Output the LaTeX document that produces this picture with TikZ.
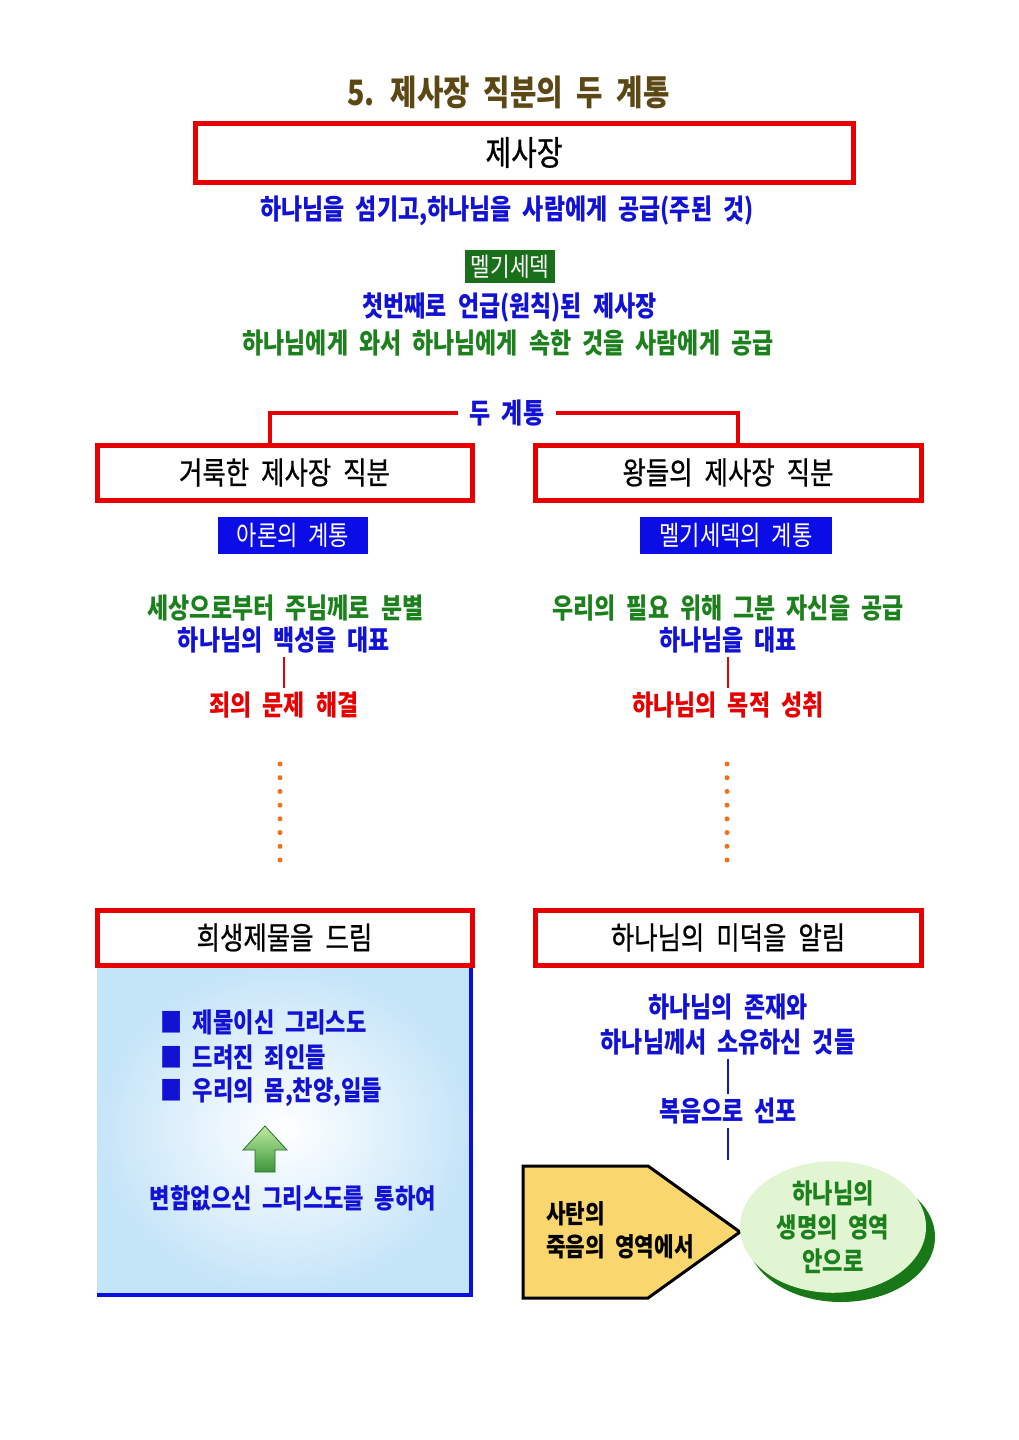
\documentclass[tikz,border=0pt]{standalone}
\usepackage{fontspec}
\setmainfont{Noto Sans CJK KR}[FakeStretch=0.82, WordSpace=2.1]
\newfontfamily\boxfont{Noto Sans CJK KR}[FakeStretch=0.82, WordSpace=2.1, FakeBold=0.7]
\usetikzlibrary{shapes.geometric}
\definecolor{myred}{RGB}{232,0,0}
\definecolor{myblue}{RGB}{18,18,212}
\definecolor{fillblue}{RGB}{12,12,230}
\definecolor{mygreen}{RGB}{28,128,28}
\definecolor{boxgreen}{RGB}{26,112,26}
\definecolor{titlebrown}{RGB}{92,72,20}
\definecolor{dotorange}{RGB}{242,112,24}
\definecolor{panelblue}{RGB}{196,228,248}
\definecolor{pentafill}{RGB}{250,214,110}
\definecolor{ellfill}{RGB}{226,245,210}
\definecolor{ellshadow}{RGB}{24,120,24}
\newcommand\fsz[2]{\fontsize{#1}{#2}\selectfont}
\tikzset{
  redbox/.style={draw=myred, line width=5pt, fill=white, inner sep=0pt, font=\boxfont\fsz{31}{34}},
  bluetxt/.style={inner sep=0pt, text=myblue, font=\bfseries\fsz{28}{32}},
  greentxt/.style={inner sep=0pt, text=mygreen, font=\bfseries\fsz{28}{32}},
  redtxt/.style={inner sep=0pt, text=myred, font=\bfseries\fsz{28}{32}},
  tagbox/.style={fill=fillblue, text=white, inner sep=0pt, minimum height=37pt, font=\fsz{27}{32}},
  redline/.style={draw=myred, line width=4pt},
  thinline/.style={line width=2.5pt, shorten <=4pt, shorten >=4pt},
  dotline/.style={draw=dotorange, line width=5pt, line cap=round, dash pattern=on 0pt off 13.714pt},
}
\begin{document}
\begin{tikzpicture}[x=1pt, y=-1pt]
\useasboundingbox (0,0) rectangle (1018,1440);

% title
\node[inner sep=0pt, text=titlebrown, font=\bfseries\fsz{35}{40}] (title) at (508.5,92) {5. 제사장 직분의 두 계통};

% top box
\node[redbox, minimum width=658pt, minimum height=59pt, font=\boxfont\fsz{34}{38}] (priest) at (524,152.5) {제사장};
\node[bluetxt] (serve) at (507,211) {하나님을 섬기고,하나님을 사람에게 공급(주된 것)};
\node[fill=boxgreen, text=white, inner sep=0pt, minimum width=90pt, minimum height=33pt, font=\fsz{26}{30}] (melch) at (510,266.5) {멜기세덱};
\node[bluetxt] (first) at (509.5,308) {첫번째로 언급(원칙)된 제사장};
\node[greentxt] (come) at (508,343) {하나님에게 와서 하나님에게 속한 것을 사람에게 공급};

% two lines
\node[bluetxt] (two) at (507,413) {두 계통};
\node[redbox, minimum width=375pt, minimum height=55pt] (holy) at (284.5,472.5) {거룩한 제사장 직분};
\node[redbox, minimum width=386pt, minimum height=55pt] (royal) at (728,472.5) {왕들의 제사장 직분};
\draw[redline] ([xshift=-12pt]two.west) -| ([xshift=-14.5pt]holy.north);
\draw[redline] ([xshift=12pt]two.east) -| ([xshift=10pt]royal.north);

\node[tagbox, minimum width=150pt] (aaron) at (293,535.5) {아론의 계통};
\node[tagbox, minimum width=192pt] (mline) at (736,535.5) {멜기세덱의 계통};

% left column
\node[greentxt] (l1) at (285.5,608) {세상으로부터 주님께로 분별};
\node[bluetxt] (l2) at (284,640) {하나님의 백성을 대표};
\node[redtxt] (l3) at (284,705) {죄의 문제 해결};
\draw[thinline, draw=myred] (l2.south) -- (l3.north);

% right column
\node[greentxt] (r1) at (728,608) {우리의 필요 위해 그분 자신을 공급};
\node[bluetxt] (r2) at (728,640) {하나님을 대표};
\node[redtxt] (r3) at (728,705) {하나님의 목적 성취};
\draw[thinline, draw=myred] (r2.south) -- (r3.north);

% dotted lines
\coordinate (ld1) at (280,764);
\coordinate (ld2) at (280,861);
\coordinate (rd1) at (727,764);
\coordinate (rd2) at (727,861);
\draw[dotline] (ld1) -- (ld2);
\draw[dotline] (rd1) -- (rd2);

% bottom left panel
\shade[inner color=white, outer color=panelblue] (97,963) rectangle (471,1295);
\draw[draw=fillblue, line width=4pt] (97,1295) -- (471,1295) -- (471,963);
\node[redbox, minimum width=375pt, minimum height=55pt] (sac) at (284.5,937.5) {희생제물을 드림};

\node[bluetxt, anchor=west, font=\bfseries\fsz{27}{30}] (b1) at (160,1022) {■ 제물이신 그리스도};
\node[bluetxt, anchor=west, font=\bfseries\fsz{27}{30}] (b2) at (160,1057) {■ 드려진 죄인들};
\node[bluetxt, anchor=west, font=\bfseries\fsz{27}{30}] (b3) at (160,1092) {■ 우리의 몸,찬양,일들};
\shade[top color={rgb,255:red,190;green,235;blue,160}, bottom color={rgb,255:red,60;green,150;blue,60}, draw={rgb,255:red,40;green,110;blue,40}, line width=0.8pt]
  (265,1126) -- (287,1150) -- (275,1150) -- (275,1172) -- (255,1172) -- (255,1150) -- (243,1150) -- cycle;
\node[bluetxt, font=\bfseries\fsz{27}{30}] (through) at (293,1198) {변함없으신 그리스도를 통하여};

% bottom right
\node[redbox, minimum width=386pt, minimum height=55pt] (virt) at (728,937.5) {하나님의 미덕을 알림};
\node[bluetxt] (v1) at (728,1007) {하나님의 존재와};
\node[bluetxt] (v2) at (728,1042) {하나님께서 소유하신 것들};
\node[bluetxt] (v3) at (728,1111) {복음으로 선포};
\coordinate (vend) at (728,1160);
\draw[thinline, draw=myblue] (v2.south) -- (v3.north);
\draw[line width=2.5pt, draw=myblue, shorten <=4pt] (v3.south) -- (vend);

% pentagon
\draw[fill=pentafill, line width=3pt, line join=miter] (523,1166) -- (648,1166) -- (740,1232) -- (648,1298) -- (523,1298) -- cycle;
\node[inner sep=0pt, anchor=west, align=left, font=\bfseries\fsz{26}{33}] (satan) at (546,1230) {사탄의\\죽음의 영역에서};

% ellipse
\node[ellipse, fill=ellshadow, minimum width=188pt, minimum height=130pt] (lifeshadow) at (841,1237) {};
\node[ellipse, fill=ellfill, minimum width=186pt, minimum height=130pt, inner sep=0pt, text=mygreen, align=center, font=\bfseries\fsz{27}{34}] (life) at (833,1227) {하나님의\\생명의 영역\\안으로};
\end{tikzpicture}
\end{document}
